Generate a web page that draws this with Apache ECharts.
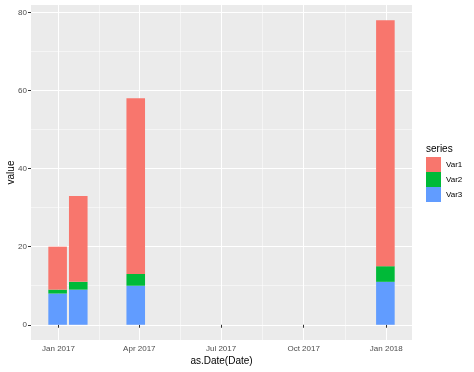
<!DOCTYPE html>
<html><head><meta charset="utf-8">
<script src="https://cdn.jsdelivr.net/npm/echarts@6/dist/echarts.min.js"></script>
<style>html,body{margin:0;padding:0;background:#fff}#c{width:474px;height:372px}</style>
</head><body><div id="c"></div>
<script>
const dates = ['2016-12-31', '2017-01-23', '2017-03-28', '2017-12-31'];
const var1 = [11, 22, 45, 63];
const var2 = [1, 2, 3, 4];
const var3 = [8, 9, 10, 11];
const xTickDates = ['2017-01-01', '2017-04-01', '2017-07-01', '2017-10-01', '2018-01-01'];
const xTickLabels = ['Jan 2017', 'Apr 2017', 'Jul 2017', 'Oct 2017', 'Jan 2018'];
const xMinorDates = ['2017-02-15T12:00', '2017-05-16T12:00', '2017-08-16', '2017-11-16'];
const yTicks = [0, 20, 40, 60, 80];
const yMinor = [10, 30, 50, 70];

const ts = s => new Date((s.length === 10 ? s + 'T00:00' : s) + ':00Z').getTime();
const xs = dates.map(ts);
let minDiff = Infinity;
for (let i = 1; i < xs.length; i++) minDiff = Math.min(minDiff, xs[i] - xs[i - 1]);
const bw = 0.9 * minDiff;
const lo = xs[0] - bw / 2, hi = xs[xs.length - 1] + bw / 2;
const xMin = lo - 0.05 * (hi - lo), xMax = hi + 0.05 * (hi - lo);
const totals = var1.map((v, i) => v + var2[i] + var3[i]);
const yTop = Math.max(...totals);
const yMin = -0.05 * yTop, yMax = yTop * 1.05;

const G = {left: 31, right: 62, top: 5, bottom: 32};
const gridW = 474 - G.left - G.right;
const barPx = bw / (xMax - xMin) * gridW;

const majorX = xTickDates.map(ts);
const labelMap = {};
majorX.forEach((t, i) => labelMap[t] = xTickLabels[i]);
const font = "'Liberation Sans', Arial, sans-serif";

const mk = (name, arr, color) => ({
  name, type: 'bar', stack: 'total', barWidth: barPx,
  itemStyle: {color}, emphasis: {disabled: true},
  encode: {x: 1, y: 0},
  data: arr.map((v, i) => [v, xs[i]])
});

const chart = echarts.init(document.getElementById('c'));
chart.setOption({
  animation: false,
  textStyle: {fontFamily: font},
  grid: {left: G.left, right: G.right, top: G.top, bottom: G.bottom, show: true,
         backgroundColor: '#EBEBEB', borderWidth: 0, containLabel: false, outerBoundsMode: 'none'},
  title: {text: 'series', left: 426, top: 144, padding: 0,
          textStyle: {fontSize: 10, fontWeight: 'normal', color: '#000', fontFamily: font}},
  legend: {data: ['Var1', 'Var2', 'Var3'], orient: 'vertical', left: 426, top: 157,
           padding: 0, itemGap: 0, itemWidth: 15, itemHeight: 15, icon: 'rect',
           selectedMode: false,
           textStyle: {fontSize: 8, color: '#000', fontFamily: font}},
  xAxis: [{
    type: 'value', min: xMin, max: xMax, position: 'bottom',
    name: 'as.Date(Date)', nameLocation: 'middle', nameGap: 16, nameMoveOverlap: false,
    nameTextStyle: {fontSize: 10, color: '#000', fontFamily: font},
    axisLine: {show: false},
    axisTick: {show: true, length: 3, customValues: majorX, lineStyle: {color: '#333', width: 1}},
    axisLabel: {customValues: majorX, margin: 5, fontSize: 8, color: '#4D4D4D', fontFamily: font,
                formatter: v => labelMap[v] || ''},
    splitLine: {show: true, lineStyle: {color: '#FFFFFF', width: 1}}
  }, {
    type: 'value', min: xMin, max: xMax, position: 'top',
    axisLine: {show: false},
    axisTick: {show: false, customValues: xMinorDates.map(ts)},
    axisLabel: {show: false, customValues: xMinorDates.map(ts)},
    splitLine: {show: true, lineStyle: {color: '#FFFFFF', width: 0.5}}
  }],
  yAxis: [{
    type: 'value', min: yMin, max: yMax,
    name: 'value', nameLocation: 'middle', nameGap: 15, nameRotate: 90, nameMoveOverlap: false,
    nameTextStyle: {fontSize: 10, color: '#000', fontFamily: font},
    axisLine: {show: false},
    axisTick: {show: true, length: 3, customValues: yTicks, lineStyle: {color: '#333', width: 1}},
    axisLabel: {customValues: yTicks, margin: 4, fontSize: 8, color: '#4D4D4D', fontFamily: font},
    splitLine: {show: true, lineStyle: {color: '#FFFFFF', width: 1}}
  }, {
    type: 'value', min: yMin, max: yMax, position: 'right',
    axisLine: {show: false},
    axisTick: {show: false, customValues: yMinor},
    axisLabel: {show: false, customValues: yMinor},
    splitLine: {show: true, lineStyle: {color: '#FFFFFF', width: 0.5}}
  }],
  series: [
    mk('Var3', var3, '#619CFF'),
    mk('Var2', var2, '#00BA38'),
    mk('Var1', var1, '#F8766D')
  ]
});
</script></body></html>
